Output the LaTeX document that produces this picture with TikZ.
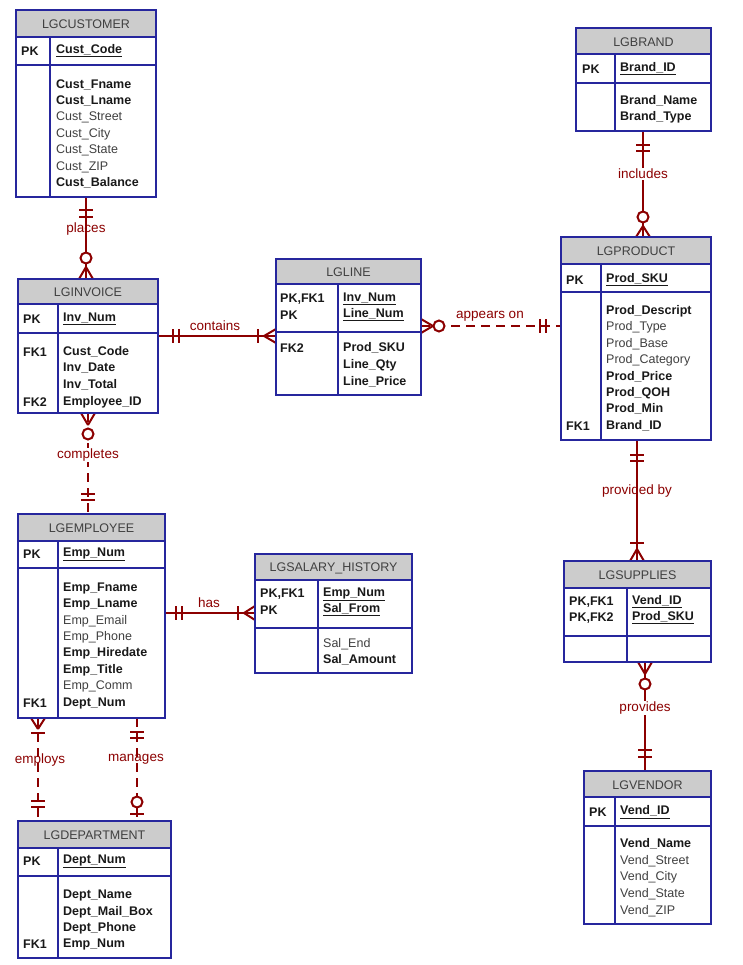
\documentclass[tikz,border=0pt]{standalone}
\usepackage{fontspec}
\setmainfont{Liberation Sans}
\newcounter{nn}
\begin{document}
\begin{tikzpicture}[x=1pt,y=-1pt,
 bx/.style={draw=blue!55!black!85,line width=1.4pt},
 hdr/.style={fill=gray!40},
 ttl/.style={font=\fontsize{12.5}{14}\selectfont,text=black!75},
 b/.style={anchor=west,inner sep=0,font=\fontsize{12.5}{14}\selectfont\bfseries,text=black!90},
 r/.style={anchor=west,inner sep=0,font=\fontsize{12.5}{14}\selectfont,text=black!75},
 rel/.style={draw=red!55!black,line width=2pt},
 dsh/.style={rel,dash pattern=on 9pt off 6pt},
 lab/.style={font=\fontsize{13.5}{15}\selectfont,text=red!55!black,inner sep=1pt}]
\newcommand\tx[4]{\stepcounter{nn}\node[#3] (t\thenn) at (#1,#2) {#4};}
\newcommand\tbl[9]{\fill[hdr] (#2,#5) rectangle (#4,#6);
 \draw[bx] (#2,#5) rectangle (#4,#8); \draw[bx] (#2,#6)--(#4,#6); \draw[bx] (#2,#7)--(#4,#7); \draw[bx] (#3,#6)--(#3,#8);
 \node[ttl] (#1) at ({(#2+#4)/2},{(#5+#6)/2+1}) {#9};}
\newcommand\tkv[2]{\draw[rel] (#1-7,#2)--(#1+7,#2);}
\newcommand\tkh[2]{\draw[rel] (#1,#2-7)--(#1,#2+7);}
\newcommand\cir[2]{\draw[rel,fill=white] (#1,#2) circle (5.5);}
\newcommand\crowv[3]{\draw[rel] (#1,#2)--(#1-7,#3) (#1,#2)--(#1+7,#3);}
\newcommand\crowh[3]{\draw[rel] (#1,#3)--(#2,#3-7) (#1,#3)--(#2,#3+7);}
\useasboundingbox (0,0) rectangle (743,965);
\fill[white] (0,0) rectangle (743,965);
% connectors first
\coordinate (p1) at (86,197); \coordinate (p2) at (86,279);
\draw[rel] (p1)--(p2); \tkv{86}{210}\tkv{86}{217}\crowv{86}{267}{279}\cir{86}{258}
\node[lab] (lp) at (86,229) {places};
\coordinate (c1) at (158,336); \coordinate (c2) at (276,336);
\draw[rel] (c1)--(c2); \tkh{173}{336}\tkh{179}{336}\tkh{258}{336}\crowh{264}{276}{336}
\node[lab] (lc) at (215,326) {contains};
\coordinate (a1) at (421,326); \coordinate (a2) at (561,326);
\draw[dsh] (a1)--(a2); \crowh{433}{421}{326}\cir{439}{326}\tkh{540}{326}\tkh{546}{326}
\node[lab] (la) at (490,316) {appears on};
\coordinate (m1) at (88,413); \coordinate (m2) at (88,514);
\draw[dsh] (m1)--(m2); \crowv{88}{425}{413}\cir{88}{434}\tkv{88}{494}\tkv{88}{500}
\node[lab,fill=white] (lm) at (88,455) {completes};
\coordinate (h1) at (165,613); \coordinate (h2) at (255,613);
\draw[rel] (h1)--(h2); \tkh{176}{613}\tkh{182}{613}\tkh{238}{613}\crowh{244}{255}{613}
\node[lab] (lh) at (209,603) {has};
\coordinate (e1) at (38,718); \coordinate (e2) at (38,821);
\draw[dsh] (e1)--(e2); \crowv{38}{729}{718}\tkv{38}{733}\tkv{38}{801}\tkv{38}{807}
\node[lab] (le) at (40,760) {employs};
\coordinate (g1) at (137,718); \coordinate (g2) at (137,821);
\draw[dsh] (g1)--(g2); \tkv{137}{732}\tkv{137}{738}\cir{137}{802}\tkv{137}{814}
\node[lab] (lg) at (136,759) {manages};
\coordinate (i1) at (643,131); \coordinate (i2) at (643,237);
\draw[rel] (i1)--(i2); \tkv{643}{145}\tkv{643}{151}\cir{643}{217}\crowv{643}{226}{237}
\node[lab,fill=white] (li) at (643,174) {includes};
\coordinate (v1) at (637,440); \coordinate (v2) at (637,561);
\draw[rel] (v1)--(v2); \tkv{637}{455}\tkv{637}{461}\tkv{637}{543}\crowv{637}{549}{561}
\node[lab] (lv) at (637,491) {provided by};
\coordinate (w1) at (645,662); \coordinate (w2) at (645,771);
\draw[rel] (w1)--(w2); \crowv{645}{674}{662}\cir{645}{684}\tkv{645}{750}\tkv{645}{757}
\node[lab,fill=white] (lw) at (645,708) {provides};
% tables
\tbl{cust}{16}{50}{156}{10}{37}{65}{197}{LGCUSTOMER}
\tx{21}{51}{b}{PK}\tx{56}{51}{b}{\underline{Cust\_Code}}
\tx{56}{85}{b}{Cust\_Fname}\tx{56}{101}{b}{Cust\_Lname}\tx{56}{117}{r}{Cust\_Street}\tx{56}{134}{r}{Cust\_City}
\tx{56}{150}{r}{Cust\_State}\tx{56}{167}{r}{Cust\_ZIP}\tx{56}{183}{b}{Cust\_Balance}
\tbl{inv}{18}{58}{158}{279}{304}{333}{413}{LGINVOICE}
\tx{23}{319}{b}{PK}\tx{63}{319}{b}{\underline{Inv\_Num}}
\tx{23}{352}{b}{FK1}\tx{23}{402}{b}{FK2}
\tx{63}{352}{b}{Cust\_Code}\tx{63}{368}{b}{Inv\_Date}\tx{63}{385}{b}{Inv\_Total}\tx{63}{402}{b}{Employee\_ID}
\tbl{line}{276}{338}{421}{259}{284}{332}{395}{LGLINE}
\tx{280}{299}{b}{PK,FK1}\tx{280}{315}{b}{PK}\tx{343}{299}{b}{\underline{Inv\_Num}}\tx{343}{315}{b}{\underline{Line\_Num}}
\tx{280}{348}{b}{FK2}\tx{343}{348}{b}{Prod\_SKU}\tx{343}{365}{b}{Line\_Qty}\tx{343}{382}{b}{Line\_Price}
\tbl{emp}{18}{58}{165}{514}{541}{568}{718}{LGEMPLOYEE}
\tx{23}{554}{b}{PK}\tx{63}{554}{b}{\underline{Emp\_Num}}
\tx{63}{588}{b}{Emp\_Fname}\tx{63}{604}{b}{Emp\_Lname}\tx{63}{621}{r}{Emp\_Email}\tx{63}{637}{r}{Emp\_Phone}
\tx{63}{653}{b}{Emp\_Hiredate}\tx{63}{670}{b}{Emp\_Title}\tx{63}{686}{r}{Emp\_Comm}\tx{63}{703}{b}{Dept\_Num}
\tx{23}{703}{b}{FK1}
\tbl{sal}{255}{318}{412}{554}{580}{628}{673}{LGSALARY\_HISTORY}
\tx{260}{594}{b}{PK,FK1}\tx{260}{610}{b}{PK}\tx{323}{594}{b}{\underline{Emp\_Num}}\tx{323}{610}{b}{\underline{Sal\_From}}
\tx{323}{644}{r}{Sal\_End}\tx{323}{660}{b}{Sal\_Amount}
\tbl{dept}{18}{58}{171}{821}{848}{876}{958}{LGDEPARTMENT}
\tx{23}{861}{b}{PK}\tx{63}{861}{b}{\underline{Dept\_Num}}
\tx{63}{895}{b}{Dept\_Name}\tx{63}{912}{b}{Dept\_Mail\_Box}\tx{63}{928}{b}{Dept\_Phone}\tx{63}{944}{b}{Emp\_Num}
\tx{23}{944}{b}{FK1}
\tbl{brand}{576}{615}{711}{28}{54}{83}{131}{LGBRAND}
\tx{582}{69}{b}{PK}\tx{620}{69}{b}{\underline{Brand\_ID}}
\tx{620}{101}{b}{Brand\_Name}\tx{620}{117}{b}{Brand\_Type}
\tbl{prod}{561}{601}{711}{237}{264}{292}{440}{LGPRODUCT}
\tx{566}{280}{b}{PK}\tx{606}{280}{b}{\underline{Prod\_SKU}}
\tx{606}{311}{b}{Prod\_Descript}\tx{606}{327}{r}{Prod\_Type}\tx{606}{344}{r}{Prod\_Base}\tx{606}{360}{r}{Prod\_Category}
\tx{606}{377}{b}{Prod\_Price}\tx{606}{393}{b}{Prod\_QOH}\tx{606}{409}{b}{Prod\_Min}\tx{606}{426}{b}{Brand\_ID}
\tx{566}{426}{b}{FK1}
\tbl{sup}{564}{627}{711}{561}{588}{636}{662}{LGSUPPLIES}
\tx{569}{602}{b}{PK,FK1}\tx{569}{618}{b}{PK,FK2}\tx{632}{602}{b}{\underline{Vend\_ID}}\tx{632}{618}{b}{\underline{Prod\_SKU}}
\tbl{vend}{584}{615}{711}{771}{797}{826}{924}{LGVENDOR}
\tx{589}{812}{b}{PK}\tx{620}{812}{b}{\underline{Vend\_ID}}
\tx{620}{844}{b}{Vend\_Name}\tx{620}{861}{r}{Vend\_Street}\tx{620}{877}{r}{Vend\_City}\tx{620}{894}{r}{Vend\_State}\tx{620}{911}{r}{Vend\_ZIP}
\end{tikzpicture}
\end{document}
